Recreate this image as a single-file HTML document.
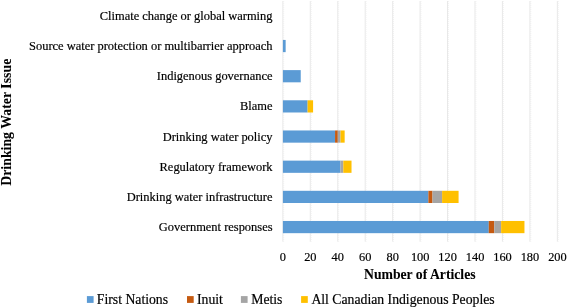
<!DOCTYPE html>
<html><head><meta charset="utf-8"><title>Chart</title>
<style>html,body{margin:0;padding:0;background:#fff}svg{display:block}text{font-family:"Liberation Serif","Times New Roman",serif;fill:#000;stroke:#000;stroke-width:0.18px}</style></head><body>
<svg width="567" height="308" viewBox="0 0 567 308">
<rect width="567" height="308" fill="#fff"/>
<g fill="none">
<line x1="282.85" y1="1.0" x2="282.85" y2="241.7" stroke="#E7E7E7" stroke-width="0.95"/>
<line x1="283.70" y1="1.0" x2="283.70" y2="241.7" stroke="#EDEDED" stroke-width="0.8" stroke-dasharray="1 1"/>
<line x1="310.30" y1="1.0" x2="310.30" y2="241.7" stroke="#E7E7E7" stroke-width="0.95"/>
<line x1="311.15" y1="1.0" x2="311.15" y2="241.7" stroke="#EDEDED" stroke-width="0.8" stroke-dasharray="1 1"/>
<line x1="337.75" y1="1.0" x2="337.75" y2="241.7" stroke="#E7E7E7" stroke-width="0.95"/>
<line x1="338.60" y1="1.0" x2="338.60" y2="241.7" stroke="#EDEDED" stroke-width="0.8" stroke-dasharray="1 1"/>
<line x1="365.20" y1="1.0" x2="365.20" y2="241.7" stroke="#E7E7E7" stroke-width="0.95"/>
<line x1="366.05" y1="1.0" x2="366.05" y2="241.7" stroke="#EDEDED" stroke-width="0.8" stroke-dasharray="1 1"/>
<line x1="392.65" y1="1.0" x2="392.65" y2="241.7" stroke="#E7E7E7" stroke-width="0.95"/>
<line x1="393.50" y1="1.0" x2="393.50" y2="241.7" stroke="#EDEDED" stroke-width="0.8" stroke-dasharray="1 1"/>
<line x1="420.10" y1="1.0" x2="420.10" y2="241.7" stroke="#E7E7E7" stroke-width="0.95"/>
<line x1="420.95" y1="1.0" x2="420.95" y2="241.7" stroke="#EDEDED" stroke-width="0.8" stroke-dasharray="1 1"/>
<line x1="447.55" y1="1.0" x2="447.55" y2="241.7" stroke="#E7E7E7" stroke-width="0.95"/>
<line x1="448.40" y1="1.0" x2="448.40" y2="241.7" stroke="#EDEDED" stroke-width="0.8" stroke-dasharray="1 1"/>
<line x1="475.00" y1="1.0" x2="475.00" y2="241.7" stroke="#E7E7E7" stroke-width="0.95"/>
<line x1="475.85" y1="1.0" x2="475.85" y2="241.7" stroke="#EDEDED" stroke-width="0.8" stroke-dasharray="1 1"/>
<line x1="502.45" y1="1.0" x2="502.45" y2="241.7" stroke="#E7E7E7" stroke-width="0.95"/>
<line x1="503.30" y1="1.0" x2="503.30" y2="241.7" stroke="#EDEDED" stroke-width="0.8" stroke-dasharray="1 1"/>
<line x1="529.90" y1="1.0" x2="529.90" y2="241.7" stroke="#E7E7E7" stroke-width="0.95"/>
<line x1="530.75" y1="1.0" x2="530.75" y2="241.7" stroke="#EDEDED" stroke-width="0.8" stroke-dasharray="1 1"/>
<line x1="557.35" y1="1.0" x2="557.35" y2="241.7" stroke="#E7E7E7" stroke-width="0.95"/>
<line x1="558.20" y1="1.0" x2="558.20" y2="241.7" stroke="#EDEDED" stroke-width="0.8" stroke-dasharray="1 1"/>
</g>
<text x="272.5" y="19.88" font-size="12.44" text-anchor="end">Climate change or global warming</text>
<rect x="282.90" y="39.95" width="2.75" height="12.2" fill="#5B9BD5"/>
<text x="272.5" y="50.05" font-size="12.44" text-anchor="end">Source water protection or multibarrier approach</text>
<rect x="282.90" y="70.12" width="17.84" height="12.2" fill="#5B9BD5"/>
<text x="272.5" y="80.22" font-size="12.44" text-anchor="end">Indigenous governance</text>
<rect x="282.90" y="100.29" width="24.71" height="12.2" fill="#5B9BD5"/>
<rect x="307.60" y="100.29" width="5.49" height="12.2" fill="#FFC000"/>
<text x="272.5" y="110.39" font-size="12.44" text-anchor="end">Blame</text>
<rect x="282.90" y="130.46" width="52.16" height="12.2" fill="#5B9BD5"/>
<rect x="335.05" y="130.46" width="2.75" height="12.2" fill="#C55A11"/>
<rect x="337.80" y="130.46" width="2.75" height="12.2" fill="#A5A5A5"/>
<rect x="340.54" y="130.46" width="4.12" height="12.2" fill="#FFC000"/>
<text x="272.5" y="140.56" font-size="12.44" text-anchor="end">Drinking water policy</text>
<rect x="282.90" y="160.63" width="57.65" height="12.2" fill="#5B9BD5"/>
<rect x="340.54" y="160.63" width="2.75" height="12.2" fill="#A5A5A5"/>
<rect x="343.29" y="160.63" width="8.23" height="12.2" fill="#FFC000"/>
<text x="272.5" y="170.73" font-size="12.44" text-anchor="end">Regulatory framework</text>
<rect x="282.90" y="190.80" width="145.49" height="12.2" fill="#5B9BD5"/>
<rect x="428.38" y="190.80" width="4.12" height="12.2" fill="#C55A11"/>
<rect x="432.50" y="190.80" width="9.61" height="12.2" fill="#A5A5A5"/>
<rect x="442.11" y="190.80" width="16.47" height="12.2" fill="#FFC000"/>
<text x="272.5" y="200.90" font-size="12.44" text-anchor="end">Drinking water infrastructure</text>
<rect x="282.90" y="220.97" width="205.88" height="12.2" fill="#5B9BD5"/>
<rect x="488.77" y="220.97" width="5.49" height="12.2" fill="#C55A11"/>
<rect x="494.26" y="220.97" width="6.86" height="12.2" fill="#A5A5A5"/>
<rect x="501.13" y="220.97" width="23.33" height="12.2" fill="#FFC000"/>
<text x="272.5" y="231.07" font-size="12.44" text-anchor="end">Government responses</text>
<text x="282.90" y="260.95" font-size="12.36" text-anchor="middle">0</text>
<text x="310.35" y="260.95" font-size="12.36" text-anchor="middle">20</text>
<text x="337.80" y="260.95" font-size="12.36" text-anchor="middle">40</text>
<text x="365.25" y="260.95" font-size="12.36" text-anchor="middle">60</text>
<text x="392.70" y="260.95" font-size="12.36" text-anchor="middle">80</text>
<text x="420.15" y="260.95" font-size="12.36" text-anchor="middle">100</text>
<text x="447.60" y="260.95" font-size="12.36" text-anchor="middle">120</text>
<text x="475.05" y="260.95" font-size="12.36" text-anchor="middle">140</text>
<text x="502.50" y="260.95" font-size="12.36" text-anchor="middle">160</text>
<text x="529.95" y="260.95" font-size="12.36" text-anchor="middle">180</text>
<text x="557.40" y="260.95" font-size="12.36" text-anchor="middle">200</text>
<text x="419.8" y="278.9" font-size="13.7" font-weight="bold" style="stroke-width:0.06px" text-anchor="middle">Number of Articles</text>
<text transform="translate(10.6,122.25) rotate(-90)" font-size="13.83" font-weight="bold" style="stroke-width:0.06px" text-anchor="middle">Drinking Water Issue</text>
<rect x="86.9" y="296.1" width="6.7" height="6.8" fill="#5B9BD5"/>
<text x="96.8" y="304.0" font-size="13.72">First Nations</text>
<rect x="187.0" y="296.1" width="6.7" height="6.8" fill="#C55A11"/>
<text x="197.0" y="304.0" font-size="13.72">Inuit</text>
<rect x="240.9" y="296.1" width="6.7" height="6.8" fill="#A5A5A5"/>
<text x="251.2" y="304.0" font-size="13.72">Metis</text>
<rect x="301.1" y="296.1" width="6.7" height="6.8" fill="#FFC000"/>
<text x="311.4" y="304.0" font-size="13.72">All Canadian Indigenous Peoples</text>
</svg></body></html>
